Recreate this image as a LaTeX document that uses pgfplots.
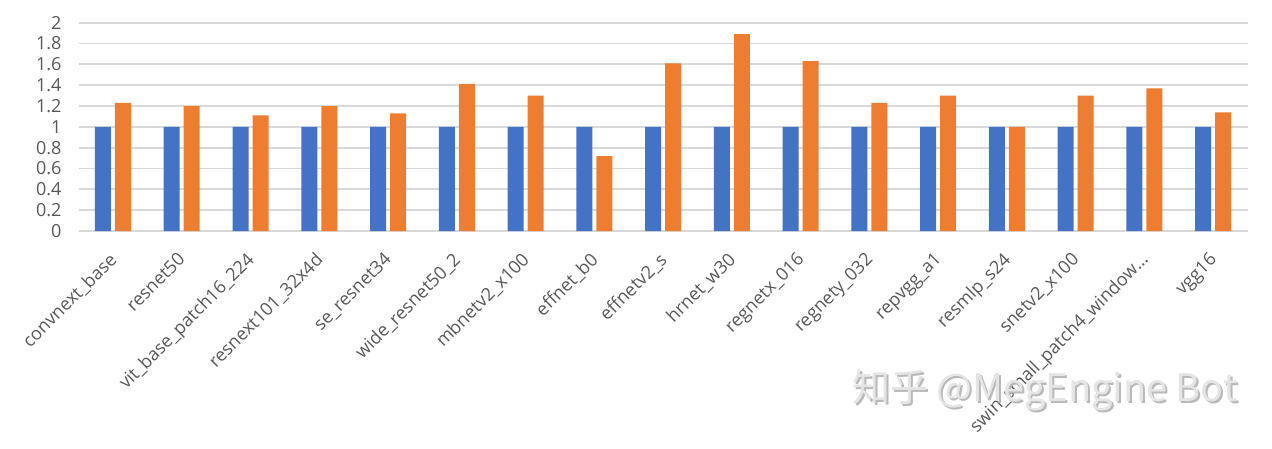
\documentclass[border=0pt]{standalone}
\usepackage{fontspec}
\setmainfont{Open Sans}
\newfontfamily\cjk{Noto Sans CJK SC}
\usepackage{pgfplots}
\usepackage{pgfplotstable}
\pgfplotsset{compat=1.18}
\definecolor{xlblue}{HTML}{4472C4}
\definecolor{xlorange}{HTML}{ED7D31}
\definecolor{gridgray}{HTML}{D9D9D9}
\definecolor{txtgray}{HTML}{595959}

% base = 1, new = relative value
\pgfplotstableread{
idx base new
0  1 1.23
1  1 1.20
2  1 1.11
3  1 1.20
4  1 1.13
5  1 1.41
6  1 1.30
7  1 0.72
8  1 1.61
9  1 1.89
10 1 1.63
11 1 1.23
12 1 1.30
13 1 1.00
14 1 1.30
15 1 1.37
16 1 1.14
}\speedtable

\begin{document}
\begin{tikzpicture}[x=1pt,y=1pt]
\path[use as bounding box] (0,0) rectangle (1272,448);
\begin{axis}[
    at={(78.6pt,217pt)}, anchor=south west,
    scale only axis, width=1169pt, height=208.3pt,
    xmin=-0.5, xmax=16.5, ymin=0, ymax=2,
    ybar, bar width=16pt,
    ytick={0,0.2,0.4,0.6,0.8,1,1.2,1.4,1.6,1.8,2},
    xtick={0,...,16},
    xticklabels={convnext\_base, resnet50, vit\_base\_patch16\_224, resnext101\_32x4d,
        se\_resnet34, wide\_resnet50\_2, mbnetv2\_x100, effnet\_b0, effnetv2\_s,
        hrnet\_w30, regnetx\_016, regnety\_032, repvgg\_a1, resmlp\_s24,
        snetv2\_x100, swin\_small\_patch4\_window…, vgg16},
    ymajorgrids, grid style={gridgray, line width=1.8pt},
    axis line style={draw=none},
    major tick length=0pt,
    /pgf/number format/assume math mode=true,
    tick label style={font=\fontsize{18}{20}\selectfont, text=txtgray},
    yticklabel style={inner sep=0pt, xshift=-17pt},
    xticklabel style={inner sep=0pt, xshift=-5pt, yshift=-20pt, rotate=45, anchor=north east},
]
\addplot[fill=xlblue, draw=none, bar shift=-10pt] table[x=idx, y=base] {\speedtable};
\addplot[fill=xlorange, draw=none, bar shift=10pt] table[x=idx, y=new] {\speedtable};
\end{axis}
% watermark
\node[text=gray!55, font=\fontsize{38}{42}\selectfont] at (1047,56) {\cjk 知乎 @MegEngine Bot};
\node[text=gray!20, font=\fontsize{38}{42}\selectfont] at (1045,58) {\cjk 知乎 @MegEngine Bot};
\end{tikzpicture}
\end{document}
